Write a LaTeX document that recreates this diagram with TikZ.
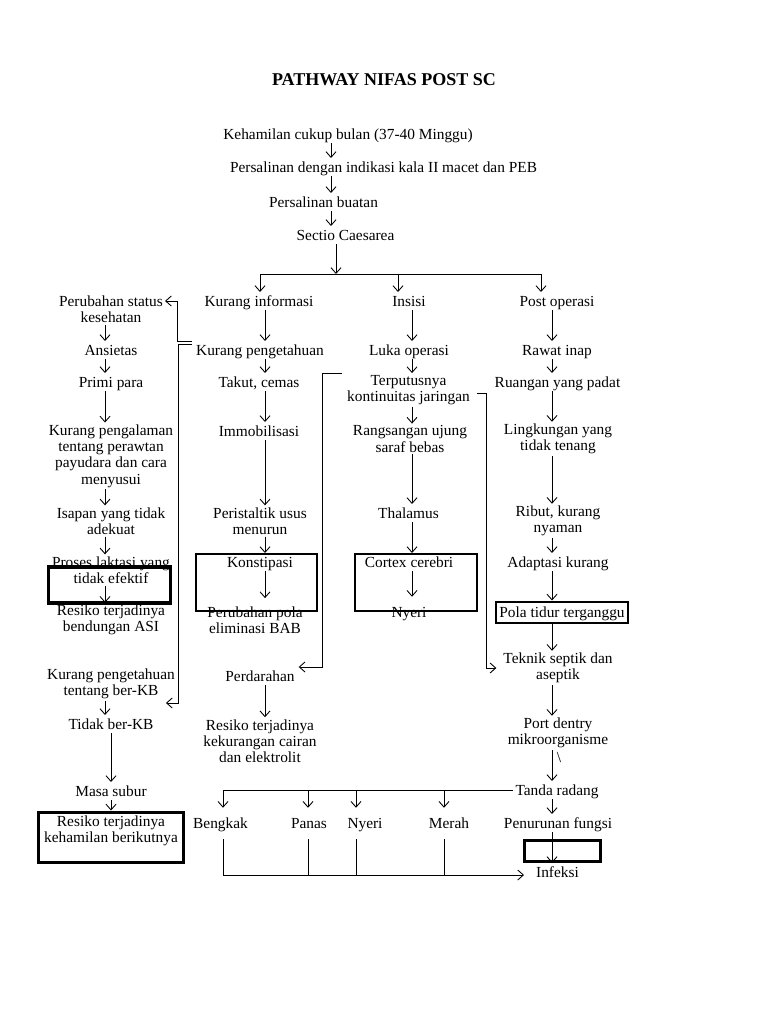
\documentclass[tikz,border=0pt]{standalone}
\usepackage{fontspec}
\setmainfont{Liberation Serif}
\usetikzlibrary{arrows.meta,calc}
\begin{document}
\begin{tikzpicture}[x=0.8pt,y=-0.8pt,
  t/.style={font=\fontsize{12.3}{13}\selectfont, inner sep=1.5pt, align=center},
  s/.style={t, text height=10pt, text depth=1pt},
  arr/.style={line width=0.7pt, -{Straight Barb[length=4.5pt,width=8pt]}},
  ln/.style={line width=0.7pt},
  frame/.style={draw, rectangle, inner sep=0pt},
]
\fill[white] (0,0) rectangle (768,1024);
\useasboundingbox (0,0) rectangle (768,1024);

\node[font=\fontsize{14.4}{16}\selectfont\bfseries] (title) at (384,80) {PATHWAY NIFAS POST SC};

% top chain
\node[s] (n1) at (348,134) {Kehamilan cukup bulan (37-40 Minggu)};
\node[s] (n2) at (383.5,167) {Persalinan dengan indikasi kala II macet dan PEB};
\node[s] (n3) at (323.5,202) {Persalinan buatan};
\node[s] (n4) at (345.5,235) {Sectio Caesarea};

\coordinate (x0) at (331,0);
\coordinate (hub) at (336,274);
\coordinate (hl) at (260,274);
\coordinate (hm) at (398,274);
\coordinate (hr) at (541,274);
\coordinate (x1) at (105,0);
\coordinate (x2) at (265,0);
\coordinate (x3) at (412,0);
\coordinate (x4) at (552,0);

% column 1
\node[t] (ps) at (111,309) {Perubahan status\\kesehatan};
\node[s] (an) at (111,350) {Ansietas};
\node[s] (pp) at (111,382) {Primi para};
\node[t] (kpg) at (111,456) {Kurang pengalaman\\tentang perawtan\\payudara dan cara\\menyusui};
\node[t] (isp) at (111,521) {Isapan yang tidak\\adekuat};
\node[t] (pl) at (111,570) {Proses laktasi yang\\tidak efektif};
\node[t] (rb) at (111,620) {Resiko terjadinya\\bendungan ASI};
\node[t] (kb) at (111,684) {Kurang pengetahuan\\tentang ber-KB};
\node[s] (tb) at (111,724) {Tidak ber-KB};
\node[s] (ms) at (111,791) {Masa subur};
\node[t] (rk) at (111,831) {Resiko terjadinya\\kehamilan berikutnya};

% column 2
\node[s] (ki) at (259,301) {Kurang informasi};
\node[s] (kp) at (260,350) {Kurang pengetahuan};
\node[s] (tc) at (259,382) {Takut, cemas};
\node[s] (im) at (259,431) {Immobilisasi};
\node[t] (pu) at (260,521) {Peristaltik usus\\menurun};
\node[s] (ko) at (260,562) {Konstipasi};
\node[t] (pe) at (255,620) {Perubahan pola\\eliminasi BAB};
\node[s] (pd) at (260,676) {Perdarahan};
\node[t] (rc) at (260,741) {Resiko terjadinya\\kekurangan cairan\\dan elektrolit};

% column 3
\node[s] (ins) at (409,301) {Insisi};
\node[s] (lo) at (409,350) {Luka operasi};
\node[t] (tk) at (408.5,390) {Terputusnya\\kontinuitas jaringan};
\node[t] (ru) at (410,439) {Rangsangan ujung\\saraf bebas};
\node[s] (th) at (408.5,513) {Thalamus};
\node[s] (cc) at (409,562) {Cortex cerebri};
\node[s] (ny) at (409,612) {Nyeri};

% column 4
\node[s] (po) at (557,301) {Post operasi};
\node[s] (ri) at (557,350) {Rawat inap};
\node[s] (rp) at (557.5,382) {Ruangan yang padat};
\node[t] (lk) at (558,439) {Lingkungan yang\\tidak tenang};
\node[t] (rbk) at (558,521) {Ribut, kurang\\nyaman};
\node[s] (ak) at (558,562) {Adaptasi kurang};
\node[s, draw, line width=1.6pt, minimum width=105.6pt, minimum height=16.8pt] (ptt) at (562,612) {Pola tidur terganggu};
\node[t] (ts) at (558,668) {Teknik septik dan\\aseptik};
\node[t] (pde) at (558,733) {Port dentry\\mikroorganisme};
\node[s] (bsl) at (559,757) {\textbackslash};
\node[s] (tr) at (557,790) {Tanda radang};
\node[s] (pf) at (558,823) {Penurunan fungsi};
\node[s] (inf) at (557.5,872) {Infeksi};

% bottom row
\node[s] (bk) at (220.5,823) {Bengkak};
\node[s] (pn) at (309,823) {Panas};
\node[s] (ny2) at (365,823) {Nyeri};
\node[s] (mr) at (449,823) {Merah};
\coordinate (xb) at (223,0);
\coordinate (xp) at (308,0);
\coordinate (xn) at (356,0);
\coordinate (xm) at (444,0);

% frames
\node[frame, line width=2.6pt, minimum width=97.6pt, minimum height=28.8pt] (f1) at (109.5,585) {};
\node[frame, line width=1.6pt, minimum width=96.8pt, minimum height=45.6pt] (f2) at (256.5,582.5) {};
\node[frame, line width=1.8pt, minimum width=97.6pt, minimum height=45.6pt] (f3) at (416,582.5) {};
\node[frame, line width=2.4pt, minimum width=116pt, minimum height=40pt] (f4) at (110.5,837) {};
\node[frame, line width=2.4pt, minimum width=60.8pt, minimum height=16.8pt] (f5) at (562,850.5) {};

% top arrows
\draw[arr] (n1.south -| x0) -- (n2.north -| x0);
\draw[arr] (n2.south -| x0) -- (n3.north -| x0);
\draw[arr] (n3.south -| x0) -- (n4.north -| x0);
\draw[arr] (n4.south -| hub) -- (hub);
\draw[ln] (hl) -- (hr);
\draw[arr] (hl) -- (ki.north -| hl);
\draw[arr] (hm) -- (ins.north -| hm);
\draw[arr] (hr) -- (po.north -| hr);

% column 1 arrows
\draw[arr] (ps.south -| x1) -- (an.north -| x1);
\draw[arr] (an.south -| x1) -- (pp.north -| x1);
\draw[arr] (pp.south -| x1) -- (kpg.north -| x1);
\draw[arr] (kpg.south -| x1) -- (isp.north -| x1);
\draw[arr] (isp.south -| x1) -- (pl.north -| x1);
\draw[arr] (pl.south -| x1) -- (rb.north -| x1);
\draw[arr] (kb.south -| x1) -- (tb.north -| x1);
\draw[arr] (tb.south -| ms.north) -- (ms.north);
\draw[arr] (ms.south) -- (f4.north -| ms.south);

% column 2 arrows
\draw[arr] (ki.south -| x2) -- (kp.north -| x2);
\draw[arr] (kp.south -| x2) -- (tc.north -| x2);
\draw[arr] (tc.south -| x2) -- (im.north -| x2);
\draw[arr] (im.south -| x2) -- (pu.north -| x2);
\draw[arr] (pu.south -| x2) -- (ko.north -| x2);
\draw[arr, shorten >=5pt] (ko.south -| x2) -- (pe.north -| x2);
\draw[arr] (pd.south -| x2) -- (rc.north -| x2);

% column 3 arrows
\draw[arr] (ins.south -| x3) -- (lo.north -| x3);
\draw[arr] (lo.south -| x3) -- (tk.north -| x3);
\draw[arr] (tk.south -| x3) -- (ru.north -| x3);
\draw[arr] (ru.south -| x3) -- (th.north -| x3);
\draw[arr] (th.south -| x3) -- (cc.north -| x3);
\draw[arr, shorten >=5pt] (cc.south -| x3) -- (ny.north -| x3);

% column 4 arrows
\draw[arr] (po.south -| x4) -- (ri.north -| x4);
\draw[arr] (ri.south -| x4) -- (rp.north -| x4);
\draw[arr] (rp.south -| x4) -- (lk.north -| x4);
\draw[arr] (lk.south -| x4) -- (rbk.north -| x4);
\draw[arr] (rbk.south -| x4) -- (ak.north -| x4);
\draw[arr] (ak.south -| x4) -- (ptt.north -| x4);
\draw[arr] (ptt.south -| x4) -- (ts.north -| x4);
\draw[arr] (ts.south -| x4) -- (pde.north -| x4);
\draw[arr] (pde.south -| x4) -- (tr.north -| x4);
\draw[arr] (tr.south -| x4) -- (pf.north -| x4);
\draw[arr] (pf.south -| x4) -- (inf.north -| x4);

% feedback lines
\coordinate (xa) at (177,0);
\coordinate (xa2) at (178.5,0);
\coordinate (xbb) at (322,0);
\coordinate (xc) at (486,0);
\draw[arr] ($(kp.west)+(-2,-9)$) -- ($(kp.west -| xa)+(0,-9)$) |- ($(ps.east)+(0,-8)$);
\draw[arr] ($(kp.west)+(-2,-6)$) -- ($(kp.west -| xa2)+(0,-6)$) |- ($(kb.east)+(-11,19)$);
\draw[arr] ($(tk.west)+(-3,-17)$) -- ($(tk.west -| xbb)+(0,-17)$) |- ($(pd.east)+(2,-9)$);
\draw[arr] ($(tk.east)+(5,3)$) -- ($(tk.east -| xc)+(0,3)$) |- ($(ts.west)+(-5,0)$);

% tanda radang branches
\draw[ln] (tr.west) -- (tr.west -| xb);
\draw[arr, shorten >=5pt] (tr.west -| xb) -- (bk.north -| xb);
\draw[arr, shorten >=5pt] (tr.west -| xp) -- (pn.north -| xp);
\draw[arr, shorten >=5pt] (tr.west -| xn) -- (ny2.north -| xn);
\draw[arr, shorten >=5pt] (tr.west -| xm) -- (mr.north -| xm);

% to infeksi
\draw[arr] ($(bk.south -| xb)+(0,7)$) |- ($(inf.west)+(-10,3)$);
\draw[ln] ($(bk.south -| xp)+(0,7)$) -- ($(inf.west -| xp)+(0,3)$);
\draw[ln] ($(bk.south -| xn)+(0,7)$) -- ($(inf.west -| xn)+(0,3)$);
\draw[ln] ($(bk.south -| xm)+(0,7)$) -- ($(inf.west -| xm)+(0,3)$);
\end{tikzpicture}
\end{document}
